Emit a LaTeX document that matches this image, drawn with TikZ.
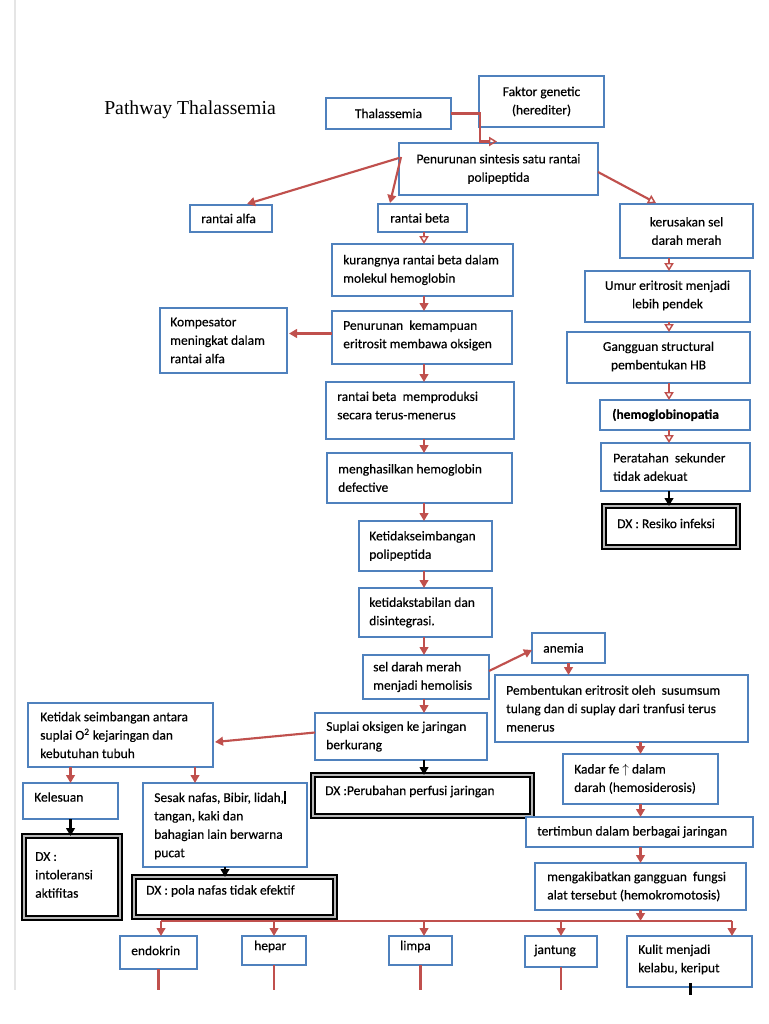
\documentclass[tikz,border=0pt]{standalone}
\usepackage{fontspec}
\setmainfont{Carlito}[FakeBold=0.35]
\newfontfamily\titlefont{Liberation Serif}
\usetikzlibrary{arrows.meta,calc,shadows}
\definecolor{boxblue}{HTML}{4F81BD}
\definecolor{arred}{HTML}{C0504D}
\newcommand\BX[6][bx]{\node[#1, anchor=north west, minimum width={(#5-#3)*0.75pt}, minimum height={(#6-#4)*0.75pt}] (#2) at (#3,#4) {};}
\newcommand\TL[4][0]{\node[txt, anchor=west] (#2-t) at ([xshift=#3*0.75pt, yshift=#1*0.75pt]#2.west) {#4};}
\newcommand\TC[3][0]{\node[txt, align=center] (#2-t) at ([yshift=#1*0.75pt]#2.center) {#3};}
\tikzset{
  bx/.style={draw=boxblue, line width=2pt, fill=white, inner sep=0pt, outer sep=0pt},
  dx/.style={draw=black, line width=1.4pt, double=gray!55, double distance=1.4pt, fill=white, inner sep=0pt, outer sep=0pt,
     general shadow={fill=black, shadow xshift=-2.5pt, shadow yshift=-2.5pt}},
  txt/.style={font=\fontsize{10.1}{13.8}\selectfont, align=left, inner sep=0pt, text=black},
  ar/.style={draw=arred, line width=1.6pt, -{Triangle[length=6pt,width=6.5pt]}},
  aro/.style={draw=arred, line width=1.6pt, -{Triangle[open,length=6pt,width=7pt,line width=1.1pt]}},
  ab/.style={draw=black, line width=1.8pt, -{Triangle[length=6pt,width=6.5pt]}},
  ln/.style={draw=arred, line width=1.6pt},
  lnb/.style={draw=black, line width=1.8pt},
}
\begin{document}
\begin{tikzpicture}[x=0.75pt,y=-0.75pt]
\useasboundingbox[fill=white] (0,0) rectangle (768,1024);
\draw[gray!20, line width=0.8pt] (15,0) -- (15,990);
\node[font=\titlefont\fontsize{14.8}{17}\selectfont, anchor=west, inner sep=0pt] (title) at (104,110) {Pathway Thalassemia};
% coordinates
\coordinate (cx) at (424,0);
\coordinate (rx) at (669,0);
\coordinate (bot) at (0,990);
\coordinate (busL) at (161,921);
\coordinate (busR) at (732,921);
% boxes
\BX{thal}{326}{98}{451}{129}
\BX{faktor}{479}{76}{604}{127}
\BX{pen}{399}{143}{598}{195}
\BX{alfa}{190}{205}{272}{232}
\BX{beta}{378}{204}{467}{232}
\BX{kerus}{620}{204}{753}{258}
\BX{kurang}{332}{244}{513}{296}
\BX{komp}{160}{308}{287}{373}
\BX{penkem}{332}{311}{512}{364}
\BX{prod}{326}{382}{514}{439}
\BX{hasil}{327}{453}{512}{503}
\BX{ketseim}{359}{521}{492}{571}
\BX{ketstab}{359}{588}{492}{637}
\BX{sel}{363}{655}{489}{699}
\BX{anemia}{532}{633}{605}{663}
\BX{pemb}{495}{675}{748}{742}
\BX{suplai}{315}{713}{487}{760}
\BX{ketidak}{28}{703}{213}{767}
\BX{keles}{23}{783}{118}{819}
\BX{sesak}{143}{783}{307}{867}
\BX[dx]{dxperf}{313}{775}{532}{816}
\BX{kadar}{563}{754}{718}{804}
\BX{tertim}{526}{817}{753}{847}
\BX[dx]{dxinto}{24}{836}{120}{918}
\BX[dx]{dxpola}{134}{877}{335}{917}
\BX{mengak}{535}{863}{746}{910}
\BX{endo}{120}{936}{197}{969}
\BX{hepar}{242}{936}{306}{965}
\BX{limpa}{389}{936}{452}{965}
\BX{jantung}{525}{936}{597}{967}
\BX{kulit}{627}{936}{752}{987}
\BX{umur}{585}{271}{750}{322}
\BX{gang}{567}{332}{750}{383}
\BX{hemo}{600}{400}{750}{430}
\BX{perat}{601}{443}{750}{491}
\BX[dx]{dxres}{604}{506}{738}{547}
% texts
\TC{thal}{Thalassemia}
\TC{faktor}{Faktor genetic\\(herediter)}
\TC{pen}{Penurunan sintesis satu rantai\\polipeptida}
\TL{alfa}{11}{rantai alfa}
\TL{beta}{12}{rantai beta}
\TC{kerus}{kerusakan sel\\darah merah}
\TL{kurang}{11}{kurangnya rantai beta dalam\\molekul hemoglobin}
\TL{komp}{10}{Kompesator\\meningkat dalam\\rantai alfa}
\TL[2]{penkem}{11}{Penurunan\ \ kemampuan\\eritrosit membawa oksigen}
\TL[5]{prod}{11}{rantai beta\ \ memproduksi\\secara terus-menerus}
\TL{hasil}{11}{menghasilkan hemoglobin\\defective}
\TL{ketseim}{10}{Ketidakseimbangan\\polipeptida}
\TL{ketstab}{10}{ketidakstabilan dan\\disintegrasi.}
\TL{sel}{10}{sel darah merah\\menjadi hemolisis}
\TL{anemia}{11}{anemia}
\TL{pemb}{11}{Pembentukan eritrosit oleh\ \ susumsum\\tulang dan di suplay dari tranfusi terus\\menerus}
\TL{suplai}{11}{Suplai oksigen ke jaringan\\berkurang}
\TL{ketidak}{12}{Ketidak seimbangan antara\\suplai O\textsuperscript{2} kejaringan dan\\kebutuhan tubuh}
\TL[4]{keles}{11}{Kelesuan}
\TL{sesak}{11}{Sesak nafas, Bibir, lidah,\rule[-1.5pt]{1.4pt}{10pt}\\tangan, kaki dan\\bahagian lain berwarna\\pucat}
\TL[4]{dxperf}{12}{DX :Perubahan perfusi jaringan}
\TL{kadar}{11}{Kadar fe $\uparrow$ dalam\\darah (hemosiderosis)}
\TL{tertim}{11}{tertimbun dalam berbagai jaringan}
\TL[2]{dxinto}{11}{DX :\\intoleransi\\aktifitas}
\TL[6]{dxpola}{12}{DX : pola nafas tidak efektif}
\TL{mengak}{12}{mengakibatkan gangguan\ \ fungsi\\alat tersebut (hemokromotosis)}
\TL[2]{endo}{11}{endokrin}
\TL[4]{hepar}{12}{hepar}
\TL[4]{limpa}{11}{limpa}
\TL[1]{jantung}{9}{jantung}
\TL[2]{kulit}{11}{Kulit menjadi\\kelabu, keriput}
\TC[1]{umur}{Umur eritrosit menjadi\\lebih pendek}
\TC[1]{gang}{Gangguan structural\\pembentukan HB}
\TL{hemo}{12}{\textbf{(hemoglobinopatia}}
\TL{perat}{12}{Peratahan\ \ sekunder\\tidak adekuat}
\TL[3]{dxres}{13}{DX : Resiko infeksi}
% connectors
\draw[aro] (thal.east) -- ++(29,0) -- ++(0,28) -- ++(17,0);
\draw[ar] ($(pen.north west)+(0,15)$) -- ($(alfa.north west)+(57,-1)$);
\draw[ar] ($(pen.north west)+(2,14)$) -- ($(beta.north west)+(12,-1)$);
\draw[aro] ($(pen.east)+(0,3)$) -- ($(kerus.north west)+(36,-1)$);
\draw[aro] (beta.south -| cx) -- (kurang.north -| cx);
\draw[ar] (kurang.south -| cx) -- (penkem.north -| cx);
\draw[ar] ($(penkem.west)+(0,-4)$) -- ($(komp.east)+(2,-7)$);
\draw[ar] (penkem.south -| cx) -- (prod.north -| cx);
\draw[ar] (prod.south -| cx) -- (hasil.north -| cx);
\draw[ar] (hasil.south -| cx) -- (ketseim.north -| cx);
\draw[ar] (ketseim.south -| cx) -- (ketstab.north -| cx);
\draw[ar] (ketstab.south -| cx) -- (sel.north -| cx);
\draw[ar] (sel.south -| cx) -- (suplai.north -| cx);
\draw[ar] ($(sel.east)+(0,-6)$) -- ($(anemia.west)+(0,2)$);
\draw[ar] (anemia.south) -- (anemia.south |- pemb.north);
\draw[ar] (kadar.north |- pemb.south) -- (kadar.north);
\draw[ar] (kadar.south) -- (kadar.south |- tertim.north);
\draw[ar] (mengak.north |- tertim.south) -- (mengak.north);
\draw[ar] ($(suplai.west)+(0,-4)$) -- ($(ketidak.east)+(2,7)$);
\draw[ar] (ketidak.south -| keles.north) -- (keles.north);
\coordinate (sesakin) at ($(sesak.north west)+(52,0)$);
\draw[ar] (ketidak.south -| sesakin) -- (sesakin);
\draw[ab] (keles.south) -- (keles.south |- dxinto.north);
\draw[ab] (sesak.south) -- (sesak.south |- dxpola.north);
\draw[ab] (suplai.south -| cx) -- (dxperf.north -| cx);
% right column
\draw[aro] (kerus.south -| rx) -- (umur.north -| rx);
\draw[aro] (umur.south -| rx) -- (gang.north -| rx);
\draw[aro] (gang.south -| rx) -- (hemo.north -| rx);
\draw[aro] (hemo.south -| rx) -- (perat.north -| rx);
\draw[ab] (perat.south -| rx) -- (dxres.north -| rx);
% bus
\draw[ln] (busL) -- (busR);
\draw[ar] (mengak.south) -- (mengak.south |- busL);
\draw[ar] (busL) -- (busL |- endo.north);
\draw[ar] (hepar.north |- busL) -- (hepar.north);
\draw[ar] (cx |- busL) -- (cx |- limpa.north);
\draw[ar] (jantung.north |- busL) -- (jantung.north);
\draw[ar] (busR) -- (busR |- kulit.north);
% continuations
\draw[ln] (endo.south) -- (endo.south |- bot);
\draw[ln] (hepar.south) -- (hepar.south |- bot);
\draw[ln] (limpa.south) -- (limpa.south |- bot);
\draw[ln] (jantung.south) -- (jantung.south |- bot);
\draw[lnb] ($(kulit.south west)+(63.5,-4)$) -- ++(0,12);
\end{tikzpicture}
\end{document}
